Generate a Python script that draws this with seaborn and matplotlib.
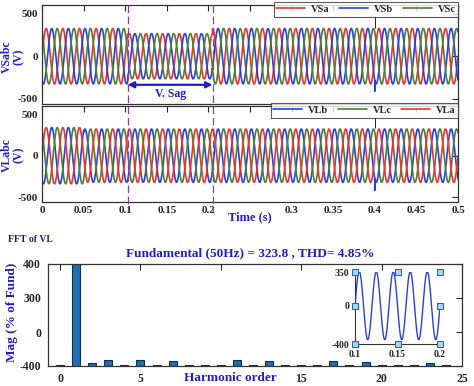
"""
DVR simulation figure: source / load voltages with a sag, plus FFT of load voltage.
"""
import numpy as np
import matplotlib.pyplot as plt
import seaborn as sns
from matplotlib.lines import Line2D
from matplotlib import transforms

# ---- values ----
freq_hz = 50
phase_names_vs = ['VSa', 'VSb', 'VSc']
phase_names_vl = ['VLb', 'VLc', 'VLa']
phase_shift_deg = {'a': 0, 'b': -120, 'c': 120}

# source voltage amplitude per segment (sag between the dashed lines)
vs_edges = [0.0, 0.103, 0.205, 0.5]
vs_amp = [325, 265, 325]
# load voltage amplitude per segment (small start-up transient)
vl_edges = [0.0, 0.05, 0.5]
vl_amp = [340, 322]
# short disturbance on phase b at t = 0.4 s
spike_t = [0.4]
spike_vs = [-410]
spike_vl = [-420]

sag_start, sag_end = 0.103, 0.205

# FFT of load voltage, % of fundamental (fundamental bar clipped at top)
harmonic = list(range(0, 25))
mag_pct = [0.8, 100, 2.5, 5.9, 0.8, 5.9, 0.8, 4.9, 0.8, 0.8, 0.8, 5.6, 0.8,
           5.0, 0.8, 0.8, 0.8, 4.9, 0.8, 3.9, 0.8, 0.8, 0.8, 2.9, 0.8]
mag_ticks = [0, 33.3, 66.7, 100]
mag_ticklabels = ['-400', '0', '300', '400']

# zoomed window of VLa
inset_t = [0.1, 0.2]
inset_amp = 355
inset_handles_t = [0.1, 0.15, 0.2, 0.1, 0.2, 0.1, 0.15, 0.2]
inset_handles_v = [350, 350, 350, 0, 0, -400, -400, -400]

colors = {'a': '#e8352e', 'b': '#2b3fe0', 'c': '#4f7d35'}
txt_blue = '#1f1fc8'

sns.set_style('white')
plt.rcParams['font.family'] = ['Liberation Serif', 'DejaVu Serif']
plt.rcParams['font.weight'] = 'bold'
plt.rcParams['axes.labelweight'] = 'bold'

W, H = 474, 386
fig = plt.figure(figsize=(W / 100, H / 100), dpi=100)


def px_axes(x0, y0, x1, y1):
    return fig.add_axes([x0 / W, 1 - y1 / H, (x1 - x0) / W, (y1 - y0) / H])


t = np.linspace(0, 0.5, 6001)


def amp_profile(edges, amps):
    idx = np.clip(np.searchsorted(edges, t, side='right') - 1, 0, len(amps) - 1)
    return np.array(amps)[idx]


def phase_wave(amp, ph):
    return amp * np.sin(2 * np.pi * freq_hz * t + np.deg2rad(phase_shift_deg[ph]))


def style_axes(ax):
    ax.tick_params(direction='in', top=True, right=True, length=4, width=0.8,
                   labelsize=8, pad=3)
    for s in ax.spines.values():
        s.set_color('#333333')
        s.set_linewidth(0.9)


def add_legend(ax, handles):
    leg = ax.legend(handles=handles, ncol=3, loc='upper right', bbox_to_anchor=(1.0, 1.03),
                    borderaxespad=0, handlelength=2.8, columnspacing=0.9,
                    handletextpad=0.55, frameon=True, fancybox=False, borderpad=0.25,
                    prop={'weight': 'bold', 'size': 7.5})
    leg.get_frame().set_edgecolor('#333333')
    leg.get_frame().set_linewidth(0.8)


# ---- source voltage ----
ax1 = px_axes(42, 5, 458, 104)
ax2 = px_axes(42, 106, 458, 202)

vs_a = amp_profile(vs_edges, vs_amp)
vl_a = amp_profile(vl_edges, vl_amp)

handles = []
for name in phase_names_vs:
    ph = name[-1]
    y = phase_wave(vs_a, ph)
    if ph == 'b':
        for st, sv in zip(spike_t, spike_vs):
            y[np.argmin(np.abs(t - st))] = sv
    sns.lineplot(x=t, y=y, ax=ax1, color=colors[ph], linewidth=1.2, estimator=None)
    handles.append(Line2D([], [], color=colors[ph], linewidth=1.2, label=name))
ax1.vlines(spike_t, 330, 470, color='#222222', linewidth=0.7)
add_legend(ax1, handles)

# ---- load voltage ----
handles = []
for name in phase_names_vl:
    ph = name[-1]
    y = phase_wave(vl_a, ph)
    if ph == 'b':
        for st, sv in zip(spike_t, spike_vl):
            y[np.argmin(np.abs(t - st))] = sv
    sns.lineplot(x=t, y=y, ax=ax2, color=colors[ph], linewidth=1.2, estimator=None)
    handles.append(Line2D([], [], color=colors[ph], linewidth=1.2, label=name))
ax2.vlines(spike_t, 330, 470, color='#222222', linewidth=0.7)
add_legend(ax2, handles)

xt = np.round(np.arange(0, 0.5001, 0.05), 2)
xtl = ['0' if v == 0 else ('' if abs(v - 0.25) < 1e-9 else f'{v:g}') for v in xt]
for ax in (ax1, ax2):
    ax.set_xlim(0, 0.5)
    ax.set_ylim(-560, 600)
    ax.set_yticks([-500, 0, 500])
    ax.set_yticklabels(['-500', '0', '500'])
    ax.set_xticks(xt)
    style_axes(ax)
    ax.set_ylabel('')
    ax.set_xlabel('')
ax1.set_xticklabels([])
ax2.set_xticklabels(xtl)
fig.text(13 / W, 1 - 57 / H, 'VSabc\n(V)', rotation=90, color=txt_blue, fontsize=8.5,
         weight='bold', ha='center', va='center', multialignment='center', linespacing=1.0)
fig.text(13 / W, 1 - 155 / H, 'VLabc\n(V)', rotation=90, color=txt_blue, fontsize=8.5,
         weight='bold', ha='center', va='center', multialignment='center', linespacing=1.0)
fig.text(250 / W, 1 - 217 / H, 'Time (s)', color=txt_blue, fontsize=9,
         ha='center', va='center', weight='bold')

# sag markers spanning both panels
tr = transforms.blended_transform_factory(ax1.transData, fig.transFigure)
for xv in (sag_start, sag_end):
    fig.add_artist(Line2D([xv, xv], [1 - 5 / H, 1 - 211 / H], transform=tr,
                          color='#8e3c9e', linestyle=(0, (6, 3)), linewidth=0.9))
ax1.annotate('', xy=(sag_start, -335), xytext=(sag_end, -335),
             arrowprops=dict(arrowstyle='<|-|>', color=txt_blue, lw=1.6,
                             mutation_scale=9, shrinkA=0, shrinkB=0))
ax1.text((sag_start + sag_end) / 2, -440, 'V. Sag', color=txt_blue, fontsize=8.5,
         ha='center', va='center', weight='bold')

# ---- FFT bar chart ----
fig.text(8 / W, 1 - 240 / H, 'FFT of VL', color='#1c1c6e', fontsize=7, weight='bold',
         ha='left', va='center')
fig.text(250 / W, 1 - 253 / H, 'Fundamental (50Hz) = 323.8 , THD= 4.85%',
         color=txt_blue, fontsize=9.5, weight='bold', ha='center', va='center')

ax3 = px_axes(48, 264, 462, 366)
sns.barplot(x=harmonic, y=mag_pct, ax=ax3, native_scale=True, width=0.5,
            color='#1f6fae', edgecolor='#0f2f50', linewidth=0.8, saturation=1)
ax3.set_xlim(-0.75, 25)
ax3.set_ylim(0, 100)
ax3.set_xticks([0, 5, 10, 15, 20, 25])
ax3.set_xticklabels(['0', '5', '', '15', '20', '25'])
ax3.set_yticks(mag_ticks)
ax3.set_yticklabels(mag_ticklabels)
style_axes(ax3)
ax3.tick_params(labelsize=8.5, pad=5)
ax3.set_ylabel('')
ax3.set_xlabel('')
fig.text(12 / W, 1 - 312 / H, 'Mag (% of Fund)', rotation=90, color=txt_blue,
         fontsize=9.5, weight='bold', ha='center', va='center')
ax3.text(10.6, -12, 'Harmonic order', color=txt_blue, fontsize=9.5, weight='bold',
         ha='center', va='center', clip_on=False)

# ---- inset: zoom of VLa during the sag ----
axi = px_axes(355, 272, 440, 344)
ti = t[(t >= inset_t[0]) & (t <= inset_t[1])]
sns.lineplot(x=ti, y=inset_amp * np.sin(2 * np.pi * freq_hz * (ti - inset_t[0])), ax=axi,
             color='#2f3fd6', linewidth=1.0, estimator=None)
axi.scatter(inset_handles_t, inset_handles_v, marker='s', s=16, facecolor='#a9d8f2',
            edgecolor='#1f6fae', linewidth=0.8, zorder=5, clip_on=False)
axi.set_xlim(0.1, 0.2)
axi.set_ylim(-400, 350)
axi.set_xticks([0.1, 0.15, 0.2])
axi.set_xticklabels(['0.1', '0.15', '0.2'])
axi.set_yticks([-400, 0, 350])
axi.set_yticklabels(['-400', '0', '350'])
axi.tick_params(direction='in', length=0, labelsize=7, pad=4)
axi.set_xlabel('')
axi.set_ylabel('')
for side in ('top', 'right'):
    axi.spines[side].set_visible(False)
for side in ('left', 'bottom'):
    axi.spines[side].set_color('#333333')
    axi.spines[side].set_linewidth(0.8)
axi.set_facecolor('white')

fig.savefig('out.png', dpi=100)
